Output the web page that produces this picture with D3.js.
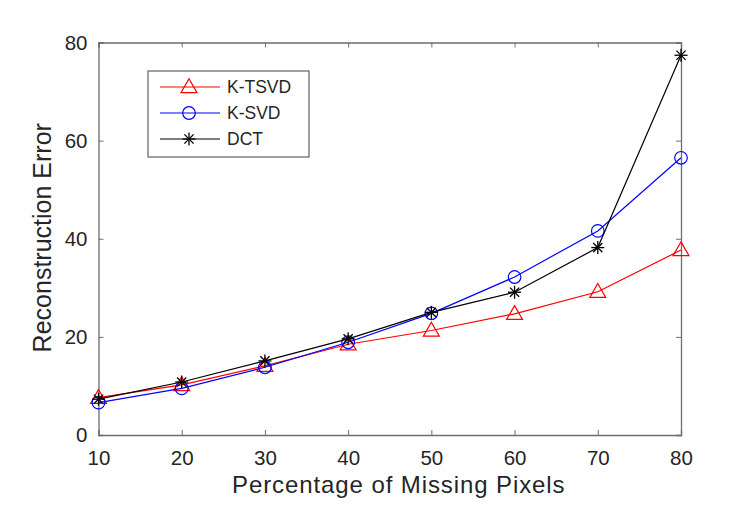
<!DOCTYPE html>
<html>
<head>
<meta charset="utf-8">
<script src="https://cdn.jsdelivr.net/npm/d3@7"></script>
<style>
  html,body{margin:0;padding:0;background:#fff;}
  svg{display:block;font-family:"Liberation Sans",Arial,sans-serif;}
</style>
</head>
<body>
<svg id="chart" width="755" height="509"></svg>
<script>
// ===== data =====
const missing = [10, 20, 30, 40, 50, 60, 70, 80];
const ktsvd = [7.6, 10.2, 14.1, 18.5, 21.3, 24.7, 29.2, 37.7];
const ksvd  = [6.6, 9.5, 13.8, 18.9, 24.8, 32.2, 41.6, 56.5];
const dct   = [7.3, 10.8, 15.1, 19.6, 25.0, 29.1, 38.2, 77.4];
const xTicks = [10, 20, 30, 40, 50, 60, 70, 80];
const yTicks = [0, 20, 40, 60, 80];

const series = [
  {name:"K-TSVD", values:ktsvd, color:"#ff0000", marker:"triangle"},
  {name:"K-SVD",  values:ksvd,  color:"#0000ff", marker:"circle"},
  {name:"DCT",    values:dct,   color:"#000000", marker:"star"}
];

// ===== layout =====
const M = {top:42.5, right:74, bottom:74, left:98.5};
const W = 755, H = 509;
const svg = d3.select("#chart");

const x = d3.scaleLinear().domain([10, 80]).range([M.left, W - M.right]);
const y = d3.scaleLinear().domain([0, 80]).range([H - M.bottom, M.top]);

const axisColor = "#6e6e6e", textColor = "#262626";

// box + ticks (matlab style, ticks inside on all sides)
const axesG = svg.append("g");
axesG.append("g")
  .attr("transform", `translate(0,${y(0)})`)
  .call(d3.axisBottom(x).tickValues(xTicks).tickSize(-5).tickPadding(15));
axesG.append("g")
  .attr("transform", `translate(0,${y(80)})`)
  .call(d3.axisTop(x).tickValues(xTicks).tickSize(-5).tickFormat(""));
axesG.append("g")
  .attr("transform", `translate(${x(10)},0)`)
  .call(d3.axisLeft(y).tickValues(yTicks).tickSize(-5).tickPadding(11));
axesG.append("g")
  .attr("transform", `translate(${x(80)},0)`)
  .call(d3.axisRight(y).tickValues(yTicks).tickSize(-5).tickFormat(""));

axesG.selectAll("path.domain").attr("stroke", axisColor).attr("stroke-width", 1.3);
axesG.selectAll(".tick line").attr("stroke", axisColor).attr("stroke-width", 1);
axesG.selectAll(".tick text")
  .attr("fill", textColor)
  .attr("font-size", "20.5px")
  .attr("font-family", "'Liberation Sans', Arial, sans-serif");

// axis titles
svg.append("text")
  .attr("x", (x(10) + x(80)) / 2 + 9).attr("y", 493)
  .attr("text-anchor", "middle")
  .attr("fill", textColor).attr("font-size", "24px")
  .attr("letter-spacing", "0.9px")
  .text("Percentage of Missing Pixels");

svg.append("text")
  .attr("transform", `translate(51,${(y(0) + y(80)) / 2 - 1}) rotate(-90)`)
  .attr("text-anchor", "middle")
  .attr("fill", textColor).attr("font-size", "25px")
  .text("Reconstruction Error");

// ===== markers =====
function drawMarker(g, type, color, cx, cy){
  if (type === "triangle"){
    g.append("path")
      .attr("d", d3.symbol().type(d3.symbolTriangle).size(110)())
      .attr("transform", `translate(${cx},${cy + 1})`)
      .attr("fill", "none").attr("stroke", color).attr("stroke-width", 1.2);
  } else if (type === "circle"){
    g.append("circle").attr("cx", cx).attr("cy", cy).attr("r", 6.3)
      .attr("fill", "none").attr("stroke", color).attr("stroke-width", 1.2);
  } else {
    const r = 6.5;
    for (const a of [0, 45, 90, 135]){
      const t = a * Math.PI / 180;
      g.append("line")
        .attr("x1", cx - r * Math.cos(t)).attr("y1", cy - r * Math.sin(t))
        .attr("x2", cx + r * Math.cos(t)).attr("y2", cy + r * Math.sin(t))
        .attr("stroke", color).attr("stroke-width", 1.3);
    }
  }
}

// ===== lines =====
const plotG = svg.append("g");
const line = d3.line().x((d, i) => x(missing[i])).y(d => y(d));

series.forEach(s => {
  plotG.append("path")
    .attr("d", line(s.values))
    .attr("fill", "none").attr("stroke", s.color).attr("stroke-width", 1.2);
  const mg = plotG.append("g");
  s.values.forEach((v, i) => drawMarker(mg, s.marker, s.color, x(missing[i]), y(v)));
});

// ===== legend =====
const legG = svg.append("g");
legG.append("rect")
  .attr("x", 148).attr("y", 71).attr("width", 161).attr("height", 86)
  .attr("fill", "#fff").attr("stroke", axisColor).attr("stroke-width", 1.3);

series.forEach((s, i) => {
  const ly = 87 + i * 26;
  legG.append("line")
    .attr("x1", 160).attr("x2", 220).attr("y1", ly).attr("y2", ly)
    .attr("stroke", s.color).attr("stroke-width", 1.2);
  drawMarker(legG, s.marker, s.color, 189, ly);
  legG.append("text")
    .attr("x", 227).attr("y", ly).attr("dy", "0.35em")
    .attr("fill", textColor).attr("font-size", "17.5px")
    .text(s.name);
});
</script>
</body>
</html>
